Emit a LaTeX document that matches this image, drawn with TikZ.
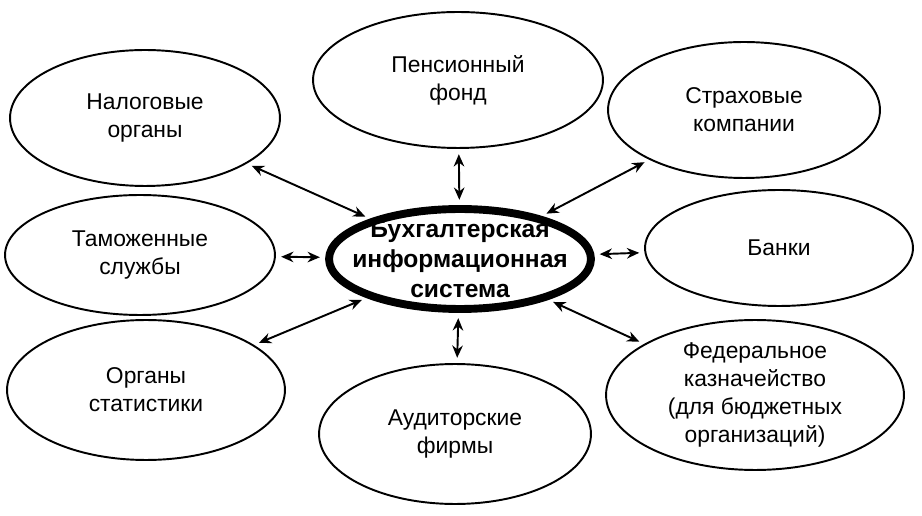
\documentclass[tikz,border=0pt]{standalone}
\usepackage{fontspec}
\setmainfont{Liberation Sans}
\usetikzlibrary{shapes.geometric,arrows.meta}
\begin{document}
\begin{tikzpicture}[x=0.02cm,y=-0.02cm,
  el/.style={ellipse,draw,line width=1.1pt,inner sep=0pt,align=center,font=\fontsize{13}{16}\selectfont},
  sz/.style 2 args={minimum width={#1*0.569pt},minimum height={#2*0.569pt}},
  link/.style={{Stealth[length=7pt,width=6pt]}-{Stealth[length=7pt,width=6pt]},line width=1.1pt,shorten <=3pt,shorten >=3pt}]
\useasboundingbox (0,0) rectangle (922,516);
\node[el,line width=4.5pt,sz={262}{100}] (c) at (460,259) {};
\node[align=center,font=\bfseries\fontsize{14}{17}\selectfont] (ct) at (460,259) {Бухгалтерская\\информационная\\система};
\node[el,sz={270}{136}] (nal) at (145,118) {Налоговые\\органы};
\node[el,sz={290}{136}] (pen) at (458,80) {Пенсионный\\фонд};
\node[el,sz={272}{136}] (str) at (744,110) {Страховые\\компании};
\node[el,sz={270}{120}] (tam) at (140,255) {Таможенные\\службы};
\node[el,sz={268}{116}] (ban) at (779,248) {Банки};
\node[el,sz={278}{140}] (org) at (146,390) {Органы\\статистики};
\node[el,sz={272}{140}] (aud) at (455,434) {Аудиторские\\фирмы};
\node[el,sz={298}{150}] (fed) at (755,395) {Федеральное\\казначейство\\(для бюджетных\\организаций)};
\foreach \n in {nal,pen,str,tam,ban,org,aud,fed} \draw[link] (\n) -- (c);
\end{tikzpicture}
\end{document}
